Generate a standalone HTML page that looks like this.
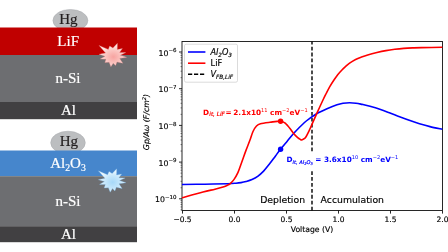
<!DOCTYPE html>
<html><head><meta charset="utf-8"><title>Gp/Aw vs Voltage</title>
<style>
html,body{margin:0;padding:0;background:#fff;}
body{width:448px;height:252px;overflow:hidden;}
svg{display:block;}
.ser{font-family:"Liberation Serif","DejaVu Serif",serif;}
.san{font-family:"DejaVu Sans","Liberation Sans",sans-serif;}
.hv{stroke:#000;stroke-width:0.15px;}
.hb{stroke:#0000ff;stroke-width:0.2px;}
.hr{stroke:#ff0000;stroke-width:0.2px;}
</style></head><body>
<svg width="448" height="252" viewBox="0 0 448 252">
<defs>
<radialGradient id="gp" cx="52%" cy="58%" r="50%"><stop offset="0" stop-color="#f7a3a0"/><stop offset="0.55" stop-color="#fbc4c0"/><stop offset="1" stop-color="#fee6e3"/></radialGradient>
<radialGradient id="gb" cx="52%" cy="58%" r="50%"><stop offset="0" stop-color="#a6d8f8"/><stop offset="0.55" stop-color="#c6e7fb"/><stop offset="1" stop-color="#ecf8fe"/></radialGradient>
<path id="star" d="M99.0 45.4 L108.3 49.4 L109.7 46.0 L112.9 48.0 L117.4 43.3 L117.3 49.6 L122.4 48.6 L119.6 52.4 L125.8 52.5 L120.3 55.2 L126.7 57.3 L119.7 58.4 L122.8 63.2 L117.0 61.9 L115.6 65.6 L113.2 63.2 L110.9 66.8 L109.1 62.3 L104.9 62.6 L106.0 59.2 L100.2 59.0 L105.1 56.2 L99.0 54.3 L105.6 52.9 Z"/>
</defs>
<rect width="448" height="252" fill="#fff"/>
<!-- top stack -->
<ellipse cx="70.4" cy="20.5" rx="17.5" ry="11" fill="#bcbec0" stroke="#a7a9ac" stroke-width="0.5"/>
<rect x="0" y="27.5" width="137" height="27.5" fill="#c00000"/>
<rect x="0" y="55" width="137" height="47" fill="#6d6e71"/>
<rect x="0" y="102" width="137" height="17.2" fill="#414042"/>
<g class="ser" font-size="15" text-anchor="middle" fill="#fff" stroke="#fff" stroke-width="0.2">
<text x="68.3" y="24" fill="#231f20" stroke="#231f20">Hg</text>
<text x="68.2" y="45.8">LiF</text>
<text x="68" y="82.6">n-Si</text>
<text x="68.5" y="115.3">Al</text>
</g>
<use href="#star" fill="url(#gp)" stroke="#e58080" stroke-width="0.3"/>
<!-- bottom stack -->
<ellipse cx="68" cy="142.7" rx="17.3" ry="11.5" fill="#bcbec0" stroke="#a7a9ac" stroke-width="0.5"/>
<rect x="0" y="150.5" width="137" height="25.7" fill="#4686cc"/>
<rect x="0" y="176.2" width="137" height="50" fill="#6d6e71"/>
<rect x="0" y="226.2" width="137" height="16" fill="#414042"/>
<g class="ser" font-size="15" text-anchor="middle" fill="#fff" stroke="#fff" stroke-width="0.2">
<text x="68.9" y="145.6" fill="#231f20" stroke="#231f20">Hg</text>
<text x="68" y="167.8">Al<tspan font-size="9.7" dy="3.2">2</tspan><tspan dy="-3.2">O</tspan><tspan font-size="9.7" dy="3.2">3</tspan></text>
<text x="68" y="206.3">n-Si</text>
<text x="68.5" y="239.2">Al</text>
</g>
<use href="#star" transform="translate(-0.7 125.4)" fill="url(#gb)" stroke="#6fb0e6" stroke-width="0.3"/>
<!-- plot -->
<g class="san" font-size="7.3" fill="#000">
<g stroke="#111" stroke-width="0.9" fill="none">
<rect x="182" y="41.5" width="260.5" height="169"/>
<path d="M182.5 210.5v3.1M234.5 210.5v3.1M286.5 210.5v3.1M338.5 210.5v3.1M390.5 210.5v3.1M442.5 210.5v3.1"/>
<path d="M182 52h-3M182 88.7h-3M182 125.4h-3M182 162.1h-3M182 198.8h-3"/>
</g>
<path d="M182 77.65h-1.5M182 71.19h-1.5M182 66.60h-1.5M182 63.05h-1.5M182 60.14h-1.5M182 57.68h-1.5M182 55.56h-1.5M182 53.68h-1.5M182 114.35h-1.5M182 107.89h-1.5M182 103.30h-1.5M182 99.75h-1.5M182 96.84h-1.5M182 94.38h-1.5M182 92.26h-1.5M182 90.38h-1.5M182 151.05h-1.5M182 144.59h-1.5M182 140.00h-1.5M182 136.45h-1.5M182 133.54h-1.5M182 131.08h-1.5M182 128.96h-1.5M182 127.08h-1.5M182 187.75h-1.5M182 181.29h-1.5M182 176.70h-1.5M182 173.15h-1.5M182 170.24h-1.5M182 167.78h-1.5M182 165.66h-1.5M182 163.78h-1.5M182 209.85h-1.5M182 206.94h-1.5M182 204.48h-1.5M182 202.36h-1.5M182 200.48h-1.5" stroke="#000" stroke-width="0.45" fill="none"/>
<text class="hv" x="182.5" y="221.5" text-anchor="middle" font-size="7.5">−0.5</text>
<text class="hv" x="234.5" y="221.5" text-anchor="middle" font-size="7.5">0.0</text>
<text class="hv" x="286.5" y="221.5" text-anchor="middle" font-size="7.5">0.5</text>
<text class="hv" x="338.5" y="221.5" text-anchor="middle" font-size="7.5">1.0</text>
<text class="hv" x="390.5" y="221.5" text-anchor="middle" font-size="7.5">1.5</text>
<text class="hv" x="442.5" y="221.5" text-anchor="middle" font-size="7.5">2.0</text>
<text class="hv" x="312" y="231.5" text-anchor="middle" font-size="7.7">Voltage (V)</text>
<text x="176.6" y="55.6" text-anchor="end" font-size="7.8" class="hv">10<tspan font-size="5.5" dy="-3.3">−6</tspan></text>
<text x="176.6" y="92.3" text-anchor="end" font-size="7.8" class="hv">10<tspan font-size="5.5" dy="-3.3">−7</tspan></text>
<text x="176.6" y="129.0" text-anchor="end" font-size="7.8" class="hv">10<tspan font-size="5.5" dy="-3.3">−8</tspan></text>
<text x="176.6" y="165.7" text-anchor="end" font-size="7.8" class="hv">10<tspan font-size="5.5" dy="-3.3">−9</tspan></text>
<text x="176.6" y="202.4" text-anchor="end" font-size="7.8" class="hv">10<tspan font-size="5.5" dy="-3.3">−10</tspan></text>
<text transform="translate(148.6 122) rotate(-90)" class="hv" text-anchor="middle" font-size="7.8" font-style="italic">Gp/Aω (F/cm<tspan font-size="5.1" dy="-3">2</tspan><tspan dy="3">)</tspan></text>
<!-- curves -->
<path d="M312 210.5V41.5" stroke="#000" stroke-width="1.4" stroke-dasharray="3.8 2.126" fill="none"/>
<path id="blue" fill="none" stroke="#0000ff" stroke-width="1.6" stroke-linejoin="round" d="M182.00 184.50 C185.83 184.45 197.33 184.33 205.00 184.20 C212.67 184.07 222.83 183.87 228.00 183.70 C233.17 183.53 233.83 183.38 236.00 183.20 C238.17 183.02 239.33 182.88 241.00 182.60 C242.67 182.32 244.17 182.02 246.00 181.50 C247.83 180.98 250.05 180.37 252.00 179.50 C253.95 178.63 255.77 177.70 257.70 176.30 C259.63 174.90 261.62 173.18 263.60 171.10 C265.58 169.02 267.62 166.33 269.60 163.80 C271.58 161.27 273.68 158.32 275.50 155.90 C277.32 153.48 278.52 151.78 280.50 149.30 C282.48 146.82 285.07 143.80 287.40 141.00 C289.73 138.20 291.65 135.58 294.50 132.50 C297.35 129.42 301.92 124.88 304.50 122.50 C307.08 120.12 307.92 119.70 310.00 118.20 C312.08 116.70 314.17 115.08 317.00 113.50 C319.83 111.92 323.67 110.20 327.00 108.75 C330.33 107.30 334.33 105.71 337.00 104.80 C339.67 103.89 340.92 103.65 343.00 103.30 C345.08 102.95 347.33 102.72 349.50 102.70 C351.67 102.68 353.92 102.92 356.00 103.20 C358.08 103.48 359.67 103.88 362.00 104.40 C364.33 104.92 367.03 105.50 370.00 106.30 C372.97 107.10 376.47 108.08 379.80 109.20 C383.13 110.32 386.70 111.73 390.00 113.00 C393.30 114.27 396.27 115.53 399.60 116.80 C402.93 118.07 406.68 119.45 410.00 120.60 C413.32 121.75 416.17 122.70 419.50 123.70 C422.83 124.70 426.20 125.67 430.00 126.60 C433.80 127.53 440.25 128.85 442.30 129.30"/>
<path id="red" fill="none" stroke="#ff0000" stroke-width="1.6" stroke-linejoin="round" d="M182.00 197.80 C185.50 196.83 197.50 193.43 203.00 192.00 C208.50 190.57 211.67 190.03 215.00 189.20 C218.33 188.37 221.00 187.63 223.00 187.00 C225.00 186.37 225.83 185.93 227.00 185.40 C228.17 184.87 228.85 184.77 230.00 183.80 C231.15 182.83 232.58 181.45 233.90 179.60 C235.22 177.75 236.57 175.67 237.90 172.70 C239.23 169.73 240.58 165.43 241.90 161.80 C243.22 158.17 244.48 154.45 245.80 150.90 C247.12 147.35 248.60 143.73 249.80 140.50 C251.00 137.27 251.88 133.92 253.00 131.50 C254.12 129.08 255.25 127.29 256.50 126.00 C257.75 124.71 258.25 124.37 260.50 123.75 C262.75 123.13 266.60 122.72 270.00 122.30 C273.40 121.88 278.25 120.95 280.90 121.20 C283.55 121.45 284.42 122.62 285.90 123.80 C287.38 124.98 288.48 126.65 289.80 128.30 C291.12 129.95 292.48 132.15 293.80 133.70 C295.12 135.25 296.60 136.63 297.70 137.60 C298.80 138.57 299.73 139.10 300.40 139.50 C301.07 139.90 301.27 140.02 301.70 140.00 C302.13 139.98 302.33 139.87 303.00 139.40 C303.67 138.93 304.60 138.82 305.70 137.20 C306.80 135.58 308.45 132.10 309.60 129.70 C310.75 127.30 311.43 125.43 312.60 122.80 C313.77 120.17 314.95 117.53 316.60 113.90 C318.25 110.27 320.90 104.40 322.50 101.00 C324.10 97.60 324.98 95.90 326.20 93.50 C327.42 91.10 328.53 88.80 329.80 86.60 C331.07 84.40 332.48 82.28 333.80 80.30 C335.12 78.32 336.38 76.38 337.70 74.70 C339.02 73.02 340.37 71.58 341.70 70.20 C343.03 68.82 344.38 67.57 345.70 66.40 C347.02 65.23 347.95 64.35 349.60 63.20 C351.25 62.05 353.62 60.53 355.60 59.50 C357.58 58.47 359.48 57.77 361.50 57.00 C363.52 56.23 365.13 55.65 367.70 54.90 C370.27 54.15 373.87 53.22 376.90 52.50 C379.93 51.78 382.92 51.13 385.90 50.60 C388.88 50.07 391.83 49.67 394.80 49.30 C397.77 48.93 400.73 48.63 403.70 48.40 C406.67 48.17 409.62 48.03 412.60 47.90 C415.58 47.77 416.65 47.70 421.60 47.60 C426.55 47.50 438.85 47.35 442.30 47.30"/>
<circle cx="280.6" cy="121.3" r="2.7" fill="#ff0000"/>
<circle cx="280.6" cy="149.3" r="2.7" fill="#0000ff"/>
<!-- legend -->
<rect x="184.5" y="44.2" width="53" height="38" rx="1.6" fill="#fff" fill-opacity="0.8" stroke="#ccc" stroke-width="0.7"/>
<path d="M188 52h17.4" stroke="#0000ff" stroke-width="1.6"/>
<path d="M188 63.2h17.4" stroke="#ff0000" stroke-width="1.6"/>
<path d="M188 74.2h17.4" stroke="#000" stroke-width="1.5" stroke-dasharray="4.2 1.8"/>
<text class="hv" x="210.4" y="54.9" font-size="8.2" font-style="italic">Al<tspan font-size="5.7" dy="1.6">2</tspan><tspan dy="-1.6">O</tspan><tspan font-size="5.7" dy="1.6">3</tspan></text>
<text class="hv" x="210.6" y="65.9" font-size="8.2">LiF</text>
<text class="hv" x="210.4" y="77" font-size="8.2" font-style="italic">V<tspan font-size="5.7" dy="1.6">FB,LiF</tspan></text>
<!-- annotations -->
<text x="203" y="114.7" font-size="7.3" font-weight="bold" fill="#ff0000">D<tspan class="hr" x="209.3" font-size="5.7" dy="1.7" font-style="italic" font-weight="normal">it, LiF</tspan><tspan x="225.6" dy="-1.7">=</tspan><tspan x="233.3">2.1x10</tspan><tspan font-size="5.1" dy="-2.9" font-weight="normal">11</tspan><tspan dy="2.9"> cm</tspan><tspan font-size="5.1" dy="-2.9" font-weight="normal">−2</tspan><tspan dy="2.9">eV</tspan><tspan font-size="5.1" dy="-2.9" font-weight="normal">−1</tspan></text>
<rect x="284" y="152.4" width="116.5" height="17.8" fill="#fff"/>
<text x="286.5" y="162.2" font-size="7.3" font-weight="bold" fill="#0000ff">D<tspan class="hb" font-size="5.1" dy="1.7" font-style="italic" font-weight="normal">it, Al</tspan><tspan class="hb" font-size="3.6" dy="0.9" font-style="italic" font-weight="normal">2</tspan><tspan class="hb" font-size="5.1" dy="-0.9" font-style="italic" font-weight="normal">O</tspan><tspan class="hb" font-size="3.6" dy="0.9" font-style="italic" font-weight="normal">3</tspan><tspan dy="-2.6"> = 3.6x10</tspan><tspan font-size="5.1" dy="-2.9" font-weight="normal">10</tspan><tspan dy="2.9"> cm</tspan><tspan font-size="5.1" dy="-2.9" font-weight="normal">−2</tspan><tspan dy="2.9">eV</tspan><tspan font-size="5.1" dy="-2.9" font-weight="normal">−1</tspan></text>
<text class="hv" x="282.6" y="203" font-size="9.3" text-anchor="middle">Depletion</text>
<text class="hv" x="352.3" y="203" font-size="9.3" text-anchor="middle">Accumulation</text>
</g>
</svg>
</body></html>
